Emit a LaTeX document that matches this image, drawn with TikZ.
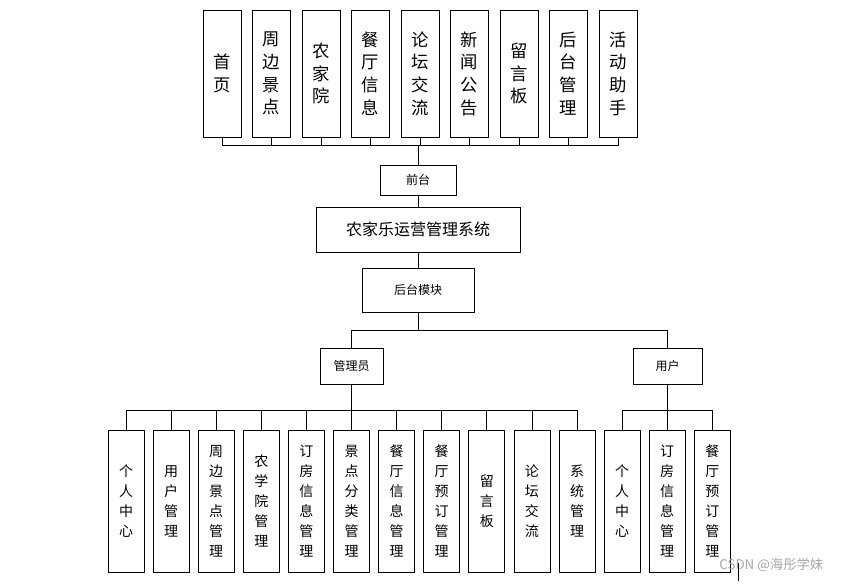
\documentclass[tikz,border=0pt]{standalone}
\usepackage{fontspec}
\setmainfont{Noto Sans CJK SC}
\usetikzlibrary{positioning}
\tikzset{
    topbox/.style={draw, semithick, minimum width=38*0.75pt, minimum height=127*0.75pt,
        align=center, font=\fontsize{13}{17}\selectfont, inner sep=1pt},
    botbox/.style={draw, semithick, minimum width=36*0.75pt, minimum height=142*0.75pt,
        align=center, font=\fontsize{10.5}{15}\selectfont, inner sep=1pt},
    midbox/.style={draw, semithick, align=center},
    link/.style={semithick}
}
\begin{document}
\begin{tikzpicture}[x=0.75pt,y=-0.75pt]
    \useasboundingbox (0,0) rectangle (841,583);
    % top row
    \foreach \t [count=\i] in {首\\页,周\\边\\景\\点,农\\家\\院,餐\\厅\\信\\息,论\\坛\\交\\流,新\\闻\\公\\告,留\\言\\板,后\\台\\管\\理,活\\动\\助\\手}
        \node[topbox] (top\i) at ({222+49.5*(\i-1)},73.5) {\t};
    \node[midbox, minimum width=76*0.75pt, minimum height=30*0.75pt, font=\small] (front) at (418,180) {前台};
    \node[midbox, minimum width=204*0.75pt, minimum height=45*0.75pt, font=\large] (sys) at (418,229.5) {农家乐运营管理系统};
    \node[midbox, minimum width=112*0.75pt, minimum height=44*0.75pt, font=\small] (back) at (418,290) {后台模块};
    \node[midbox, minimum width=63*0.75pt, minimum height=36*0.75pt, font=\small] (admin) at (351.5,366) {管理员};
    \node[midbox, minimum width=69*0.75pt, minimum height=36*0.75pt, font=\small] (user) at (667.5,366) {用户};
    % bottom row
    \foreach \t [count=\i] in {个\\人\\中\\心,用\\户\\管\\理,周\\边\\景\\点\\管\\理,农\\学\\院\\管\\理,订\\房\\信\\息\\管\\理,景\\点\\分\\类\\管\\理,餐\\厅\\信\\息\\管\\理,餐\\厅\\预\\订\\管\\理,留\\言\\板,论\\坛\\交\\流,系\\统\\管\\理,个\\人\\中\\心,订\\房\\信\\息\\管\\理,餐\\厅\\预\\订\\管\\理}
        \node[botbox] (bot\i) at ({126+45.1*(\i-1)},501) {\t};
    % connectors
    \coordinate (topbus) at (418,145);
    \foreach \i in {1,...,9}
        \draw[link] (top\i.south) |- (topbus);
    \draw[link] (topbus) -- (front.north);
    \draw[link] (front) -- (sys);
    \draw[link] (sys) -- (back);
    \coordinate (rolebus) at (418,330);
    \draw[link] (back.south) -- (rolebus);
    \draw[link] (rolebus) -| (admin.north);
    \draw[link] (rolebus) -| (user.north);
    \coordinate (adminbus) at (351.5,410);
    \draw[link] (admin.south) -- (adminbus);
    \foreach \i in {1,...,11}
        \draw[link] (adminbus) -| (bot\i.north);
    \coordinate (userbus) at (667.5,410);
    \draw[link] (user.south) -- (userbus);
    \foreach \i in {12,13,14}
        \draw[link] (userbus) -| (bot\i.north);
    % watermark
    \node[text=gray!70, anchor=east] (mark) at (828,565) {CSDN @海彤学妹};
    \draw[semithick] (738,563) -- (738,581);
\end{tikzpicture}
\end{document}
